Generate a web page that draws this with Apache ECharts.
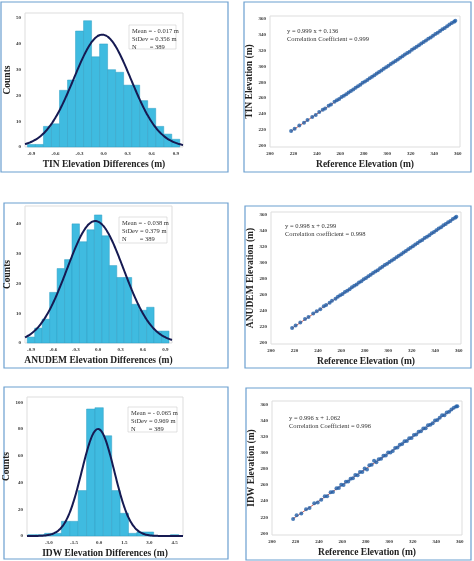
<!DOCTYPE html>
<html><head><meta charset="utf-8">
<script src="https://cdn.jsdelivr.net/npm/echarts@6/dist/echarts.min.js"></script>
<style>html,body{margin:0;padding:0;background:#fff}#c{width:474px;height:561px}</style>
</head><body><div id="c"></div>
<script>
// ---------- data ----------
const tinCenters = [-0.9,-0.8,-0.7,-0.6,-0.5,-0.4,-0.3,-0.2,-0.1,0.0,0.1,0.2,0.3,0.4,0.5,0.6,0.7,0.8,0.9];
const tinCounts  = [1,1,8,9,22,26,45,49,35,40,30,29,24,24,18,15,8,5,3];
const anuCenters = [-0.9,-0.8,-0.7,-0.6,-0.5,-0.4,-0.3,-0.2,-0.1,0.0,0.1,0.2,0.3,0.4,0.5,0.6,0.7,0.8,0.9];
const anuCounts  = [2,5,8,17,25,28,40,34,38,43,36,26,22,22,13,11,12,4,4];
const idwCenters = [-4.0,-3.5,-3.0,-2.5,-2.0,-1.5,-1.0,-0.5,0.0,0.5,1.0,1.5,2.0,2.5,3.0,3.5,4.0,4.5];
const idwCounts  = [1,1,2,2,11,11,34,95,96,75,34,17,2,3,3,0,0,1];
const stats = { // mean, sd, n, bin width
  tin: [-0.017, 0.356, 389, 0.1],
  anu: [-0.038, 0.379, 389, 0.1],
  idw: [-0.065, 0.969, 389, 0.5]
};
const histTicks = [-0.9,-0.6,-0.3,0.0,0.3,0.6,0.9];
const idwTicks  = [-3.0,-1.5,0.0,1.5,3.0,4.5];
const refX = [218,221,225,229,232,236,239,242,245,247,250,252,255,257,259,261,263,265,267,269,271,273,275,277,279,281,283,285,287,289,291,293,295,297,299,301,303,305,307,309,311,313,315,317,319,321,323,325,327,329,331,333,335,337,339,341,343,345,347,349,351,353,355,357,358];
const tinY = [218.3,221.1,225.4,228.8,232.2,236.1,238.7,242.3,245.2,246.8,250.3,251.9,255.2,257.1,258.8,261.3,263.0,264.8,267.2,269.1,270.8,273.2,275.1,276.9,279.3,281.0,282.8,285.2,287.1,288.9,291.2,293.0,294.8,297.1,299.2,300.9,303.1,305.2,306.9,309.0,311.2,312.9,315.1,317.0,318.8,321.2,323.1,324.9,327.0,329.2,330.9,333.0,335.1,336.9,339.0,341.2,342.9,345.0,347.1,348.9,351.0,353.2,355.0,356.8,357.9];
const anuY = [218.1,221.4,225.0,229.3,231.8,236.3,239.1,241.8,245.4,247.2,249.8,252.3,255.0,257.3,259.2,260.8,263.3,265.1,266.9,269.3,271.2,272.8,275.3,277.0,279.4,280.9,283.2,285.0,287.3,289.1,290.8,293.2,295.0,297.3,298.9,301.2,303.0,304.9,307.2,309.1,310.9,313.2,315.0,317.2,319.0,320.9,323.2,325.0,327.1,328.9,331.2,333.0,334.9,337.2,338.9,341.1,343.2,344.9,347.3,349.0,351.1,352.8,355.2,356.9,358.1];
const idwY = [217.8,222.4,224.6,229.9,231.5,237.2,238.4,241.6,246.0,246.1,250.9,251.4,255.8,256.3,260.1,259.9,263.9,264.2,267.8,268.4,272.3,272.1,275.9,276.0,280.5,279.2,284.4,284.9,290.1,288.0,291.9,292.6,296.1,296.4,300.2,300.3,302.2,305.9,306.4,309.8,310.6,314.0,314.3,317.9,318.1,322.0,322.4,325.8,326.5,329.9,330.3,334.0,334.6,336.5,339.8,340.6,343.4,346.3,346.5,349.6,350.8,353.4,355.6,357.1,357.6];
const fits = { tin: [0.999, 0.136], anu: [0.998, 0.299], idw: [0.996, 1.062] };
const scatTicks = [200,220,240,260,280,300,320,340,360];

// ---------- build ----------
const F = 'Liberation Serif';
const grids = [
  {left:25, top:13, width:158, height:134},
  {left:270, top:16, width:190, height:131},
  {left:25, top:206, width:147, height:137},
  {left:271, top:212, width:190, height:132},
  {left:27, top:397, width:156, height:139},
  {left:272, top:401, width:190, height:134}
].map(g => Object.assign(g, {show:true, backgroundColor:'#fff', borderColor:'#ddd', borderWidth:1}));

const lab = {fontFamily:F, fontWeight:'bold', fontSize:5, color:'#333', margin:4};
const nameSt = {fontFamily:F, fontWeight:'bold', fontSize:9.5, color:'#222'};
const xAxes = [], yAxes = [], series = [];

function hist(gi, centers, counts, st, xmin, xmax, ticks, ymax, yint, title) {
  xAxes.push({gridIndex:gi, type:'value', min:xmin, max:xmax, splitLine:{show:false},
    axisLine:{show:false}, axisTick:{show:false},
    axisLabel:Object.assign({}, lab, {customValues:ticks, formatter:v=>v.toFixed(1)}),
    name:title, nameLocation:'middle', nameGap:13, nameTextStyle:nameSt});
  yAxes.push({gridIndex:gi, type:'value', min:0, max:ymax, interval:yint, splitLine:{show:false},
    axisLine:{show:false}, axisTick:{show:false},
    axisLabel:Object.assign({}, lab, {showMaxLabel:false}),
    name:'Counts', nameLocation:'middle', nameGap:11, nameTextStyle:nameSt});
  const ai = xAxes.length - 1, w = st[3];
  series.push({type:'custom', xAxisIndex:ai, yAxisIndex:ai,
    data:centers.map((c,i)=>[c, counts[i]]),
    renderItem:(p, api) => {
      const a = api.coord([api.value(0)-w/2, api.value(1)]);
      const b = api.coord([api.value(0)+w/2, 0]);
      return {type:'rect', shape:{x:a[0], y:a[1], width:b[0]-a[0], height:b[1]-a[1]},
        style:{fill:'#3fbbe0', stroke:'#2e9fc4', lineWidth:0.5}};
    }});
  const pts = [];
  const n = 120;
  for (let i=0;i<=n;i++){ const x = xmin + (xmax-xmin)*i/n;
    pts.push([x, st[2]*w/(st[1]*Math.sqrt(2*Math.PI))*Math.exp(-0.5*((x-st[0])/st[1])**2)]); }
  series.push({type:'line', xAxisIndex:ai, yAxisIndex:ai, data:pts, showSymbol:false, smooth:true,
    lineStyle:{color:'#161a52', width:2}, z:5});
}
function scat(gi, ys, fit, yname) {
  xAxes.push({gridIndex:gi, type:'value', min:200, max:362, splitLine:{show:false},
    axisLine:{show:false}, axisTick:{show:false},
    axisLabel:Object.assign({}, lab, {customValues:scatTicks}),
    name:'Reference Elevation (m)', nameLocation:'middle', nameGap:13, nameTextStyle:nameSt});
  yAxes.push({gridIndex:gi, type:'value', min:198, max:364, splitLine:{show:false},
    axisLine:{show:false}, axisTick:{show:false},
    axisLabel:Object.assign({}, lab, {customValues:scatTicks}),
    name:yname, nameLocation:'middle', nameGap:15, nameTextStyle:nameSt});
  const ai = xAxes.length - 1;
  series.push({type:'line', xAxisIndex:ai, yAxisIndex:ai, showSymbol:false,
    data:[[refX[0], fit[0]*refX[0]+fit[1]],[refX[refX.length-1], fit[0]*refX[refX.length-1]+fit[1]]],
    lineStyle:{color:'#c0392b', width:0.8}, z:1});
  series.push({type:'scatter', xAxisIndex:ai, yAxisIndex:ai, data:refX.map((x,i)=>[x, ys[i]]),
    symbolSize:4, itemStyle:{color:'#1f5ea8'}, z:3});
}
hist(0, tinCenters, tinCounts, stats.tin, -0.98, 0.99, histTicks, 52, 10, 'TIN Elevation Differences (m)');
scat(1, tinY, fits.tin, 'TIN Elevation (m)');
hist(2, anuCenters, anuCounts, stats.anu, -0.98, 0.99, histTicks, 46, 10, 'ANUDEM Elevation Differences (m)');
scat(3, anuY, fits.anu, 'ANUDEM Elevation (m)');
hist(4, idwCenters, idwCounts, stats.idw, -4.3, 5.0, idwTicks, 104, 20, 'IDW Elevation Differences (m)');
scat(5, idwY, fits.idw, 'IDW Elevation (m)');

const txt = {fontFamily:F, fontSize:6.5, fill:'#333', lineHeight:8};
function statBox(x,y,w,h,s){
  return [{type:'rect', shape:{x:x,y:y,width:w,height:h}, style:{fill:'#fff', stroke:'#ccc', lineWidth:0.6}, z:10},
    {type:'text', x:x+3, y:y+2, style:Object.assign({}, txt, {text:
      'Mean = - '+Math.abs(s[0]).toFixed(3)+' m\nStDev = '+s[1].toFixed(3)+' m\nN        = '+s[2]}), z:11}];
}
function fitText(x,y,f,cc){
  return {type:'text', x:x, y:y, style:Object.assign({}, txt, {fontSize:6.5, text:
    'y = '+f[0]+' x + '+f[1]+'\n'+cc+' = '+f[0]}), z:11};
}
const frame = (x,y,w,h)=>({type:'rect', shape:{x:x,y:y,width:w,height:h}, style:{fill:'none', stroke:'#6b9fd0', lineWidth:1.2}, z:0});
const graphic = [
  frame(1,2,227,170), frame(244,2,227,170),
  frame(4,203,224,165), frame(245,206,226,162),
  frame(4,387,224,172), frame(246,388,225,172),
  ...statBox(129,25,47,24,stats.tin),
  ...statBox(119,217,48,26,stats.anu),
  ...statBox(128,407,49,25,stats.idw),
  fitText(287,27,fits.tin,'Correlation Coefficient'),
  fitText(285,222,fits.anu,'Correlation coefficient'),
  fitText(289,414,fits.idw,'Correlation Coefficient')
];

const chart = echarts.init(document.getElementById('c'));
chart.setOption({animation:false, grid:grids, xAxis:xAxes, yAxis:yAxes, series:series, graphic:graphic});
</script></body></html>
